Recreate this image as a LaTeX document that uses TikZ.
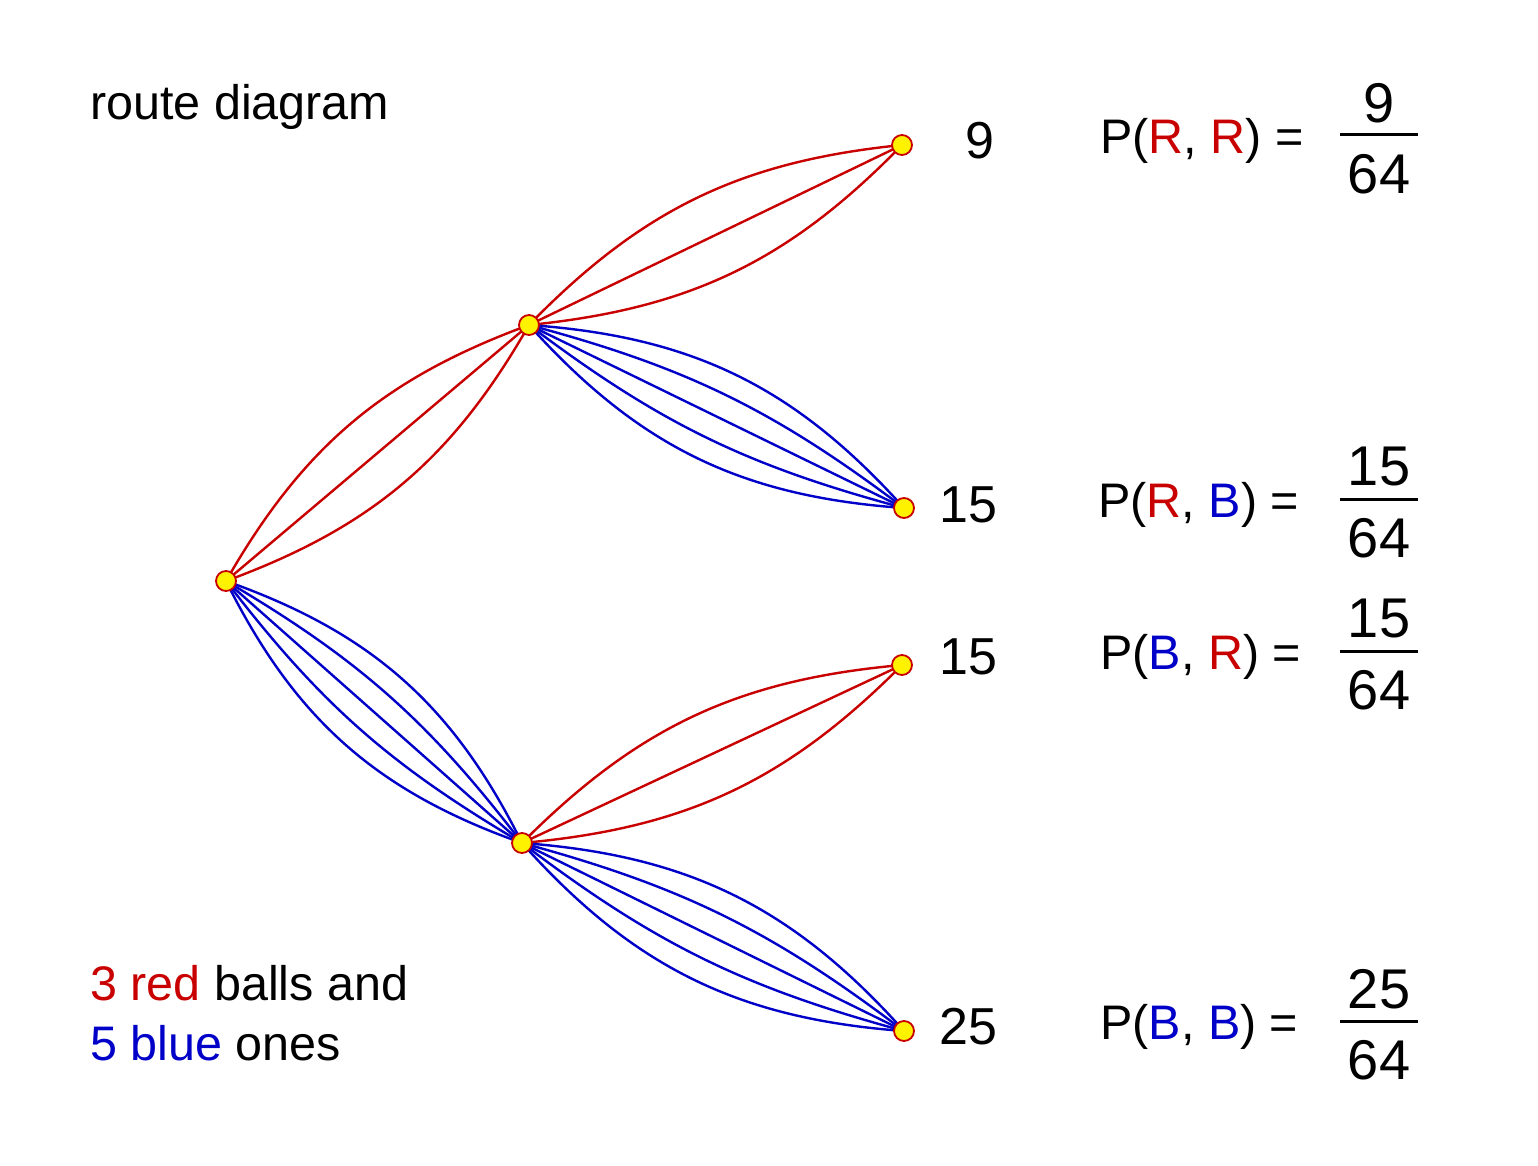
\documentclass[tikz,border=0pt]{standalone}
\usepackage{fontspec}
\setmainfont{Liberation Sans}
\definecolor{rr}{RGB}{200,0,0}
\definecolor{bb}{RGB}{0,0,200}
\begin{document}
\begin{tikzpicture}[x=1pt,y=-1pt,
  pt/.style={circle,draw=rr,fill=yellow,line width=1.8pt,minimum size=20pt,inner sep=0pt},
  rl/.style={rr,line width=2.4pt},
  bl/.style={bb,line width=2.4pt},
  lab/.style={font=\fontsize{48.5}{52}\selectfont,inner sep=0pt},
  num/.style={font=\fontsize{52}{56}\selectfont,inner sep=0pt},
  fr/.style={font=\fontsize{56}{60}\selectfont,inner sep=0pt}]
\useasboundingbox (0,0) rectangle (1538,1166);
\coordinate (r0) at (226,581);
\coordinate (a) at (529,325);
\coordinate (b) at (522,843);
\coordinate (e1) at (902,145);
\coordinate (e2) at (904,508);
\coordinate (e3) at (902,665);
\coordinate (e4) at (904,1031);
\foreach \s/\t in {r0/a,a/e1,b/e3}{
  \foreach \ang in {-20,0,20} \draw[rl] (\s) to[bend left=\ang] (\t);}
\foreach \s/\t in {r0/b,a/e2,b/e4}{
  \foreach \ang in {-22,-11,0,11,22} \draw[bl] (\s) to[bend left=\ang] (\t);}
\foreach \p in {r0,a,b,e1,e2,e3,e4} \node[pt] (n\p) at (\p) {};
\node[lab,anchor=west] (t1) at (90,107) {route diagram};
\node[lab,anchor=west] (t2) at (90,983) {\textcolor{rr}{3 red} balls and};
\node[lab,anchor=west] (t3) at (90,1043) {\textcolor{bb}{5 blue} ones};
\node[num] (c1) at (980,141) {9};
\node[num] (c2) at (968,505) {15};
\node[num] (c3) at (968,657) {15};
\node[num] (c4) at (968,1027) {25};
\newcommand{\R}{\textcolor{rr}{R}}
\newcommand{\B}{\textcolor{bb}{B}}
\foreach \y/\x/\p/\q/\nm in {141/1100/\R/\R/9, 505/1098/\R/\B/15, 657/1100/\B/\R/15, 1027/1100/\B/\B/25}{
  \node[lab,anchor=west] at (\x,\y) {P(\p, \q) =};
  \draw[line width=3pt] (1340,\y-6) -- (1418,\y-6);
  \node[fr] at (1379,\y-38) {\nm};
  \node[fr] at (1379,\y+33) {64};
}
\end{tikzpicture}
\end{document}
